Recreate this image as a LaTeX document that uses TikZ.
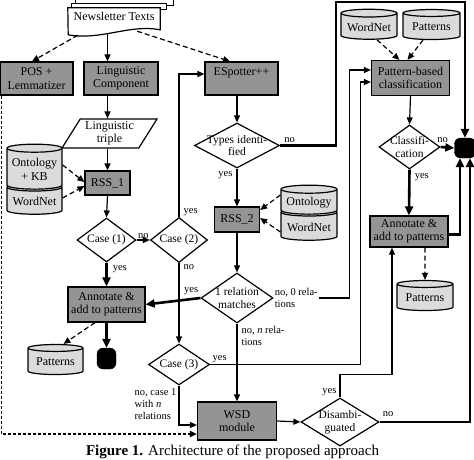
\documentclass[tikz,border=0pt]{standalone}
\usepackage{fontspec}
\setmainfont{Liberation Serif}
\usetikzlibrary{shapes,arrows.meta,calc}
\definecolor{boxgray}{rgb}{0.58,0.58,0.58}
\definecolor{cylgray}{rgb}{0.86,0.86,0.86}
\tikzstyle{box}=[rectangle, draw, fill=boxgray, line width=1.2pt, align=center, inner sep=1pt, font=\fontsize{12}{13.5}\selectfont]
\tikzstyle{db}=[cylinder, shape border rotate=90, aspect=0.17, draw, fill=cylgray, line width=1.2pt, align=center, inner sep=1pt, font=\fontsize{12}{13.5}\selectfont]
\tikzstyle{dia}=[diamond, draw, fill=white, line width=1.2pt, inner sep=0pt]
\tikzstyle{dtext}=[align=center, inner sep=0pt, font=\fontsize{11.5}{12.5}\selectfont]
\tikzstyle{lbl}=[inner sep=1pt, font=\fontsize{10.5}{12}\selectfont]
\tikzstyle{stop}=[draw, fill=black, rounded corners=6pt, minimum width=19pt, minimum height=21pt]
\tikzstyle{flow}=[line width=1.2pt, -{Triangle[length=7pt,width=6pt]}]
\tikzstyle{heavy}=[line width=2.6pt, -{Triangle[length=9pt,width=8pt]}]
\tikzstyle{feed}=[flow, dashed, dash pattern=on 5pt off 3pt]

\begin{document}
\begin{tikzpicture}[x=1pt, y=-1pt]
\useasboundingbox (0,0) rectangle (474,459);

		% newsletter stack
		\node[font=\fontsize{12}{13.5}\selectfont, minimum width=92pt, minimum height=17pt, inner sep=0pt] (news) at (114,16.5) {};
		\draw[line width=1.2pt, fill=white] ($(news.north west)+(8,-8)$) rectangle ($(news.north east)+(13,-2)$);
		\draw[line width=1.2pt, fill=white] ($(news.north west)+(4,-4)$) rectangle ($(news.north east)+(6,2)$);
		\draw[line width=1.2pt, fill=white] (news.north west) -- (news.north east) -- ++(0,22)
			.. controls +(-30,-6) and +(32,6) .. ++(-92,5) -- cycle;
		\node[font=\fontsize{12}{13.5}\selectfont] at (news) {Newsletter Texts};

		% left column
		\node[box, minimum width=73pt, minimum height=33pt] (pos) at (36.5,78.5) {POS +\\Lemmatizer};
		\node[box, minimum width=74pt, minimum height=33pt] (ling) at (121,78.5) {Linguistic\\Component};
		\node[trapezium, trapezium left angle=55, trapezium right angle=125, trapezium stretches body,
			draw, fill=white, line width=1.2pt, align=center, inner sep=1pt, minimum width=95pt, minimum height=29pt,
			font=\fontsize{12}{13.5}\selectfont] (triple) at (109.5,133.5) {Linguistic\\triple};
		\node[db, minimum width=55pt, minimum height=31pt] (wnL) at (34.5,201.5) {WordNet};
		\node[db, minimum width=55pt, minimum height=45pt] (ontoL) at (34.5,169.5) {Ontology\\+ KB};
		\node[box, minimum width=45pt, minimum height=24pt] (rss1) at (107.5,183) {RSS\_1};
		\node[dia, minimum width=59pt, minimum height=44pt, label={[dtext]center:{Case (1)}}] (case1) at (106.5,240) {};
		\node[dia, minimum width=57pt, minimum height=45pt, label={[dtext]center:{Case (2)}}] (case2) at (179,240) {};
		\node[box, minimum width=77pt, minimum height=35pt] (annotL) at (106.5,304.5) {Annotate \&\\add to patterns};
		\node[db, minimum width=55pt, minimum height=30pt] (patL) at (55.5,362) {Patterns};
		\node[stop] (endL) at (106.5,358.5) {};
		\node[dia, minimum width=61pt, minimum height=41pt, label={[dtext]center:{Case (3)}}] (case3) at (179,364.5) {};

		% middle column
		\node[box, minimum width=73pt, minimum height=33pt] (esp) at (241.5,78.5) {ESpotter++\\\mbox{}};
		\node[dia, minimum width=85pt, minimum height=45pt, label={[dtext]center:{Types identi-\\fied}}] (types) at (237,145.5) {};
		\node[box, minimum width=45pt, minimum height=25pt] (rss2) at (237,219.5) {RSS\_2};
		\node[db, minimum width=56pt, minimum height=32pt] (wnM) at (309,227) {WordNet};
		\node[db, minimum width=56pt, minimum height=29pt] (ontoM) at (309,202.5) {Ontology};
		\node[dia, minimum width=72pt, minimum height=50pt, label={[dtext]center:{1 relation\\matches}}] (rel1) at (237,298) {};
		\node[box, minimum width=79pt, minimum height=38pt] (wsd) at (237,421) {WSD\\module};
		\node[dia, minimum width=78pt, minimum height=48pt, label={[dtext]center:{Disambi-\\guated}}] (disamb) at (340,422) {};

		% right column
		\node[db, minimum width=56pt, minimum height=30pt] (wnR) at (369,27) {WordNet};
		\node[db, minimum width=57pt, minimum height=30pt] (patR) at (431.5,27) {Patterns};
		\node[box, minimum width=78pt, minimum height=35pt] (patbased) at (410.5,78) {Pattern-based\\classification};
		\node[dia, minimum width=61pt, minimum height=44pt, label={[dtext]center:{Classifi-\\cation}}] (classif) at (409.5,147) {};
		\node[stop, minimum width=21pt, minimum height=20pt] (endR) at (465,148) {};
		\node[box, minimum width=78pt, minimum height=31pt] (annotR) at (409,231.5) {Annotate \&\\add to patterns};
		\node[db, minimum width=56pt, minimum height=30pt] (patR2) at (425,298) {Patterns};

		\coordinate (topleft) at (336,2);

		% connectors
		\draw[flow] ($(news.south -| rss1.north)+(0,8)$) -- (ling.north -| rss1.north);
		\draw[feed] ($(news.south west)+(10,10)$) -- ([xshift=-4.5pt]pos.north);
		\draw[feed] ($(news.south east)+(-23,6)$) -- ([xshift=-11.5pt]esp.north);
		\draw[feed, line width=1.8pt, dash pattern=on 3pt off 2pt] ([xshift=2pt]pos.south west) |- ([yshift=-13pt]wsd.west);
		\draw[flow] (ling.south -| rss1.north) -- (triple.north -| rss1.north);
		\draw[flow] (triple.south -| rss1.north) -- (rss1.north);
		\draw[feed] ([yshift=4.5pt]ontoL.east) -- ([yshift=1pt]rss1.west);
		\draw[feed] ([yshift=3.5pt]wnL.east) -- ([yshift=-3pt]rss1.west);
		\draw[flow] (rss1.south) -- (case1.north);
		\draw[flow] (case1.east) -- node[lbl, above]{no} (case2.west);
		\draw[flow] (case2.north) node[lbl, anchor=south west, xshift=3pt]{yes} |- ([yshift=4.5pt]esp.west);
		\draw[heavy] (case1.south) node[lbl, anchor=north west, xshift=4pt, yshift=-1pt]{yes} -- (annotL.north);
		\draw[feed] ([xshift=-11.5pt]annotL.south) -- ([xshift=8pt]patL.north);
		\draw[heavy] (annotL.south) -- (endL.north);
		\draw[flow] (case2.south) node[lbl, anchor=north west, xshift=3pt]{no} -- (case3.north);

		\draw[flow] (esp.south -| types.north) -- (types.north);
		\draw[heavy] (types.east) node[lbl, anchor=south west, xshift=2pt, yshift=1pt]{no} -| (topleft) -| (endR.north);
		\draw[flow] (types.south) node[lbl, anchor=north east, xshift=-3pt, yshift=-1pt]{yes} -- (rss2.north);
		\draw[feed] ([yshift=7.5pt]ontoM.west) -- ([yshift=9.5pt]rss2.east);
		\draw[feed] ([yshift=-5pt]wnM.west) -- ([yshift=1.5pt]rss2.east);
		\draw[flow] (rss2.south) -- (rel1.north);
		\draw[heavy] (rel1.west) node[lbl, anchor=south east, yshift=1pt]{yes} -- (annotL.east);
		\draw[flow] (rel1.east) -- ++(76,0) |- ([yshift=8pt]patbased.west);
		\node[lbl, anchor=west, align=left, fill=white] at (rel1.east) {no, 0 rela-\\tions};
		\draw[flow] (rel1.south) node[lbl, anchor=north west, align=left, xshift=3pt, yshift=-1pt]{no, \textit{n} rela-\\tions} -- (wsd.north);
		\draw[flow] (case3.east) node[lbl, anchor=south west, xshift=1pt]{yes} -- ++(150.5,0) |- ([yshift=-4pt]patbased.west);
		\draw[flow] (case3.south) node[lbl, anchor=north east, align=left, xshift=-1pt, yshift=-1pt]{no, case 1\\with \textit{n}\\relations} |- ([yshift=-4pt]wsd.west);
		\draw[flow] (wsd.east) -- (disamb.west);
		\draw[flow] (disamb.north) node[lbl, anchor=south east, xshift=-2pt]{yes} -- ++(0,-23) -| ([xshift=-17pt]annotR.south);
		\draw[heavy] (disamb.east) node[lbl, anchor=south west, xshift=1pt, yshift=3pt]{no} -| ([xshift=5pt]endR.south);

		\draw[feed] ([xshift=8pt]wnR.south) -- ([xshift=-11pt]patbased.north);
		\draw[feed] ([xshift=-8.5pt]patR.south) -- ([xshift=-3pt]patbased.north);
		\draw[flow] (patbased.south) -- (classif.north);
		\draw[heavy] (classif.east) node[lbl, anchor=south, xshift=2pt, yshift=2pt]{no} -- (endR.west);
		\draw[heavy] (classif.south) node[lbl, anchor=north west, xshift=3pt, yshift=-2pt]{yes} -- (annotR.north);
		\draw[heavy] ([yshift=-3pt]annotR.east) -| ([xshift=-5pt]endR.south);
		\draw[feed] ([xshift=16pt]annotR.south) -- (patR2.north);

		\node[font=\fontsize{15}{18}\selectfont, anchor=base] (caption) at (232.5,455.5) {\textbf{Figure 1.} Architecture of the proposed approach};

\end{tikzpicture}
\end{document}
